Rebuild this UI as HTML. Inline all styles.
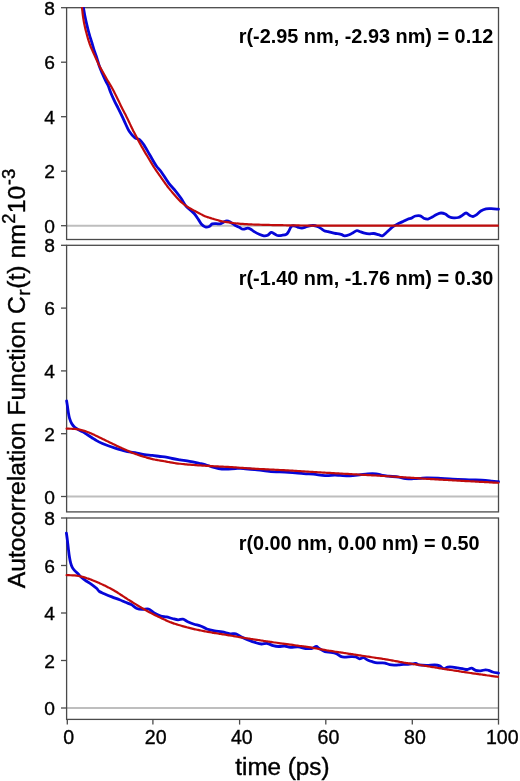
<!DOCTYPE html>
<html><head><meta charset="utf-8"><style>html,body{margin:0;padding:0;background:#fff;}svg{display:block;filter:blur(0.4px);}</style></head><body>
<svg width="520" height="781" viewBox="0 0 520 781">
<defs>
<clipPath id="c0"><rect x="65.00" y="7.10" width="435.10" height="233.00"/></clipPath>
<clipPath id="c1"><rect x="65.00" y="244.70" width="435.10" height="267.80"/></clipPath>
<clipPath id="c2"><rect x="65.00" y="517.40" width="435.10" height="202.60"/></clipPath>
</defs>
<rect width="520" height="781" fill="#fff"/>
<line x1="66.60" y1="225.70" x2="498.50" y2="225.70" stroke="#bebebe" stroke-width="2"/>
<rect x="66.60" y="7.70" width="431.90" height="231.80" fill="none" stroke="#4a4a4a" stroke-width="1.30"/>
<line x1="61.0" y1="225.70" x2="66.60" y2="225.70" stroke="#4a4a4a" stroke-width="1.30"/>
<text x="54.8" y="232.80" text-anchor="end" font-family="&quot;Liberation Sans&quot;, Arial, sans-serif" font-size="19.2" stroke="#000" stroke-width="0.35">0</text>
<line x1="61.0" y1="171.20" x2="66.60" y2="171.20" stroke="#4a4a4a" stroke-width="1.30"/>
<text x="54.8" y="178.30" text-anchor="end" font-family="&quot;Liberation Sans&quot;, Arial, sans-serif" font-size="19.2" stroke="#000" stroke-width="0.35">2</text>
<line x1="61.0" y1="116.70" x2="66.60" y2="116.70" stroke="#4a4a4a" stroke-width="1.30"/>
<text x="54.8" y="123.80" text-anchor="end" font-family="&quot;Liberation Sans&quot;, Arial, sans-serif" font-size="19.2" stroke="#000" stroke-width="0.35">4</text>
<line x1="61.0" y1="62.20" x2="66.60" y2="62.20" stroke="#4a4a4a" stroke-width="1.30"/>
<text x="54.8" y="69.30" text-anchor="end" font-family="&quot;Liberation Sans&quot;, Arial, sans-serif" font-size="19.2" stroke="#000" stroke-width="0.35">6</text>
<line x1="61.0" y1="7.70" x2="66.60" y2="7.70" stroke="#4a4a4a" stroke-width="1.30"/>
<text x="54.8" y="14.80" text-anchor="end" font-family="&quot;Liberation Sans&quot;, Arial, sans-serif" font-size="19.2" stroke="#000" stroke-width="0.35">8</text>
<g clip-path="url(#c0)" fill="none" stroke-linejoin="round" stroke-linecap="round">
<path d="M83.30,7.00 C83.55,8.40 84.22,12.47 84.80,15.40 C85.38,18.33 86.13,21.72 86.80,24.60 C87.47,27.48 88.20,30.47 88.80,32.70 C89.40,34.93 89.88,36.33 90.40,38.00 C90.92,39.67 91.27,40.63 91.90,42.70 C92.53,44.77 93.37,47.83 94.20,50.40 C95.03,52.97 96.07,55.53 96.90,58.10 C97.73,60.67 98.30,63.23 99.20,65.80 C100.10,68.37 101.20,70.93 102.30,73.50 C103.40,76.07 104.83,79.20 105.80,81.20 C106.77,83.20 107.27,83.58 108.10,85.50 C108.93,87.42 109.78,90.22 110.80,92.70 C111.82,95.18 112.98,97.83 114.20,100.40 C115.42,102.97 116.82,105.53 118.10,108.10 C119.38,110.67 120.68,113.23 121.90,115.80 C123.12,118.37 124.18,120.93 125.40,123.50 C126.62,126.07 127.60,128.80 129.20,131.20 C130.80,133.60 133.23,136.47 135.00,137.90 C136.77,139.33 138.35,138.68 139.80,139.80 C141.25,140.92 142.10,142.20 143.70,144.60 C145.30,147.00 147.32,150.67 149.40,154.20 C151.48,157.73 154.27,162.92 156.20,165.80 C158.13,168.68 158.92,168.62 161.00,171.50 C163.08,174.38 166.30,179.88 168.70,183.10 C171.10,186.32 173.32,188.23 175.40,190.80 C177.48,193.37 179.43,195.93 181.20,198.50 C182.97,201.07 184.40,204.20 186.00,206.20 C187.60,208.20 189.37,209.20 190.80,210.50 C192.23,211.80 193.32,212.48 194.60,214.00 C195.88,215.52 197.35,217.90 198.50,219.60 C199.65,221.30 200.35,222.97 201.50,224.20 C202.65,225.43 204.12,226.62 205.40,227.00 C206.68,227.38 208.05,227.02 209.20,226.50 C210.35,225.98 211.13,224.38 212.30,223.90 C213.47,223.42 214.92,223.60 216.20,223.60 C217.48,223.60 218.85,224.10 220.00,223.90 C221.15,223.70 221.95,222.92 223.10,222.40 C224.25,221.88 225.62,220.80 226.90,220.80 C228.18,220.80 229.52,221.70 230.80,222.40 C232.08,223.10 233.20,224.18 234.60,225.00 C236.00,225.82 237.78,226.60 239.20,227.30 C240.62,228.00 241.68,229.07 243.10,229.20 C244.52,229.33 246.42,228.10 247.70,228.10 C248.98,228.10 249.65,228.57 250.80,229.20 C251.95,229.83 253.20,231.07 254.60,231.90 C256.00,232.73 257.67,233.55 259.20,234.20 C260.73,234.85 262.38,235.62 263.80,235.80 C265.22,235.98 266.47,235.87 267.70,235.30 C268.93,234.73 270.12,232.65 271.20,232.40 C272.28,232.15 273.18,233.28 274.20,233.80 C275.22,234.32 276.02,235.25 277.30,235.50 C278.58,235.75 280.37,235.52 281.90,235.30 C283.43,235.08 285.35,234.88 286.50,234.20 C287.65,233.52 288.02,232.48 288.80,231.20 C289.58,229.92 290.30,227.40 291.20,226.50 C292.10,225.60 293.05,225.67 294.20,225.80 C295.35,225.93 296.82,226.92 298.10,227.30 C299.38,227.68 300.62,228.15 301.90,228.10 C303.18,228.05 304.52,227.38 305.80,227.00 C307.08,226.62 308.32,226.05 309.60,225.80 C310.88,225.55 312.22,225.38 313.50,225.50 C314.78,225.62 316.15,226.07 317.30,226.50 C318.45,226.93 319.25,227.40 320.40,228.10 C321.55,228.80 322.92,230.12 324.20,230.70 C325.48,231.28 326.82,231.27 328.10,231.60 C329.38,231.93 330.62,232.38 331.90,232.70 C333.18,233.02 334.65,233.32 335.80,233.50 C336.95,233.68 337.78,233.60 338.80,233.80 C339.82,234.00 340.93,234.37 341.90,234.70 C342.87,235.03 343.38,235.80 344.60,235.80 C345.82,235.80 347.78,235.22 349.20,234.70 C350.62,234.18 351.82,233.37 353.10,232.70 C354.38,232.03 355.62,230.83 356.90,230.70 C358.18,230.57 359.52,231.48 360.80,231.90 C362.08,232.32 363.20,232.88 364.60,233.20 C366.00,233.52 367.67,233.75 369.20,233.80 C370.73,233.85 372.25,233.35 373.80,233.50 C375.35,233.65 377.08,234.32 378.50,234.70 C379.92,235.08 381.02,236.13 382.30,235.80 C383.58,235.47 384.92,233.80 386.20,232.70 C387.48,231.60 388.73,230.28 390.00,229.20 C391.27,228.12 392.38,227.15 393.80,226.20 C395.22,225.25 396.95,224.28 398.50,223.50 C400.05,222.72 401.57,222.22 403.10,221.50 C404.63,220.78 406.30,219.77 407.70,219.20 C409.10,218.63 410.22,218.63 411.50,218.10 C412.78,217.57 413.95,216.38 415.40,216.00 C416.85,215.62 418.82,215.43 420.20,215.80 C421.58,216.17 422.40,217.65 423.70,218.20 C425.00,218.75 426.57,219.30 428.00,219.10 C429.43,218.90 430.87,217.78 432.30,217.00 C433.73,216.22 435.15,215.07 436.60,214.40 C438.05,213.73 439.55,213.05 441.00,213.00 C442.45,212.95 443.87,213.43 445.30,214.10 C446.73,214.77 448.17,216.37 449.60,217.00 C451.03,217.63 452.45,217.82 453.90,217.90 C455.35,217.98 457.00,217.85 458.30,217.50 C459.60,217.15 460.40,216.55 461.70,215.80 C463.00,215.05 464.80,213.08 466.10,213.00 C467.40,212.92 468.35,214.72 469.50,215.30 C470.65,215.88 471.85,216.58 473.00,216.50 C474.15,216.42 475.10,215.72 476.40,214.80 C477.70,213.88 479.20,211.98 480.80,211.00 C482.40,210.02 484.27,209.28 486.00,208.90 C487.73,208.52 489.12,208.65 491.20,208.70 C493.28,208.75 497.28,209.12 498.50,209.20" stroke="#0606d8" stroke-width="2.80"/>
<path d="M82.00,7.00 C82.03,7.33 82.12,8.33 82.17,8.99 C82.23,9.66 82.29,10.32 82.36,10.98 C82.42,11.65 82.49,12.31 82.56,12.97 C82.64,13.63 82.72,14.30 82.80,14.96 C82.89,15.62 82.98,16.28 83.08,16.94 C83.17,17.60 83.27,18.25 83.38,18.91 C83.48,19.57 83.59,20.23 83.70,20.89 C83.82,21.54 83.93,22.20 84.06,22.85 C84.18,23.51 84.31,24.16 84.45,24.81 C84.59,25.46 84.73,26.12 84.88,26.77 C85.03,27.42 85.18,28.06 85.33,28.71 C85.49,29.36 85.65,30.01 85.81,30.65 C85.97,31.30 86.14,31.95 86.30,32.59 C86.47,33.24 86.64,33.88 86.82,34.52 C86.99,35.17 87.17,35.81 87.34,36.45 C87.52,37.10 87.70,37.74 87.89,38.38 C88.07,39.02 88.26,39.66 88.46,40.29 C88.65,40.93 88.85,41.57 89.06,42.20 C89.27,42.83 89.48,43.46 89.71,44.09 C89.94,44.72 90.17,45.34 90.41,45.96 C90.66,46.58 90.91,47.19 91.17,47.81 C91.43,48.42 91.70,49.03 91.97,49.64 C92.24,50.25 92.51,50.86 92.79,51.46 C93.06,52.07 93.34,52.68 93.61,53.29 C93.89,53.89 94.16,54.50 94.44,55.11 C94.71,55.71 94.99,56.32 95.26,56.93 C95.53,57.54 95.81,58.15 96.08,58.75 C96.35,59.36 96.62,59.97 96.90,60.58 C97.17,61.19 97.44,61.80 97.72,62.40 C98.00,63.01 98.27,63.61 98.56,64.21 C98.85,64.81 99.15,65.41 99.45,66.00 C99.76,66.59 100.08,67.18 100.40,67.76 C100.72,68.34 101.05,68.92 101.37,69.50 C101.70,70.08 102.04,70.66 102.37,71.24 C102.70,71.82 103.03,72.39 103.36,72.97 C103.69,73.55 104.01,74.14 104.34,74.72 C104.67,75.30 104.99,75.88 105.31,76.47 C105.64,77.05 105.96,77.63 106.29,78.21 C106.62,78.79 106.95,79.37 107.29,79.94 C107.63,80.51 107.97,81.08 108.32,81.65 C108.67,82.22 109.02,82.78 109.37,83.35 C109.71,83.92 110.06,84.49 110.40,85.06 C110.74,85.64 111.07,86.21 111.39,86.80 C111.72,87.38 112.04,87.96 112.35,88.55 C112.67,89.14 112.97,89.73 113.28,90.32 C113.59,90.91 113.90,91.50 114.20,92.09 C114.51,92.69 114.81,93.28 115.11,93.88 C115.41,94.47 115.71,95.07 116.01,95.66 C116.30,96.26 116.60,96.86 116.89,97.46 C117.19,98.05 117.48,98.65 117.77,99.25 C118.07,99.85 118.36,100.45 118.65,101.05 C118.94,101.65 119.23,102.25 119.51,102.85 C119.80,103.45 120.09,104.06 120.38,104.66 C120.66,105.26 120.95,105.86 121.24,106.46 C121.53,107.06 121.82,107.66 122.12,108.26 C122.41,108.86 122.71,109.45 123.01,110.04 C123.32,110.64 123.63,111.23 123.94,111.82 C124.25,112.41 124.57,112.99 124.88,113.58 C125.19,114.17 125.50,114.76 125.80,115.35 C126.11,115.95 126.41,116.54 126.71,117.14 C127.00,117.73 127.30,118.33 127.59,118.93 C127.88,119.53 128.16,120.13 128.45,120.74 C128.74,121.34 129.02,121.94 129.30,122.54 C129.59,123.15 129.87,123.75 130.15,124.36 C130.43,124.96 130.72,125.56 131.00,126.17 C131.29,126.77 131.57,127.37 131.86,127.97 C132.15,128.57 132.45,129.17 132.75,129.76 C133.04,130.36 133.35,130.95 133.65,131.55 C133.96,132.14 134.27,132.73 134.57,133.32 C134.88,133.91 135.19,134.50 135.50,135.09 C135.82,135.68 136.13,136.27 136.44,136.86 C136.75,137.45 137.07,138.04 137.38,138.62 C137.70,139.21 138.01,139.80 138.33,140.39 C138.64,140.97 138.96,141.56 139.28,142.15 C139.59,142.73 139.91,143.32 140.23,143.91 C140.54,144.49 140.86,145.08 141.18,145.66 C141.50,146.25 141.82,146.83 142.15,147.41 C142.47,147.99 142.80,148.57 143.14,149.15 C143.47,149.73 143.80,150.31 144.14,150.88 C144.48,151.46 144.82,152.03 145.16,152.60 C145.50,153.17 145.84,153.75 146.19,154.32 C146.53,154.89 146.87,155.46 147.21,156.03 C147.56,156.61 147.90,157.18 148.24,157.75 C148.58,158.32 148.93,158.89 149.27,159.47 C149.61,160.04 149.95,160.61 150.30,161.18 C150.64,161.75 150.98,162.33 151.33,162.90 C151.67,163.47 152.01,164.04 152.36,164.61 C152.71,165.18 153.06,165.74 153.41,166.31 C153.77,166.87 154.13,167.43 154.49,167.99 C154.86,168.55 155.23,169.10 155.60,169.65 C155.98,170.20 156.36,170.75 156.74,171.30 C157.12,171.84 157.50,172.39 157.88,172.94 C158.27,173.48 158.65,174.03 159.03,174.57 C159.42,175.12 159.80,175.66 160.18,176.21 C160.57,176.75 160.95,177.30 161.33,177.85 C161.72,178.39 162.10,178.94 162.48,179.48 C162.87,180.03 163.25,180.57 163.63,181.12 C164.02,181.66 164.40,182.21 164.79,182.75 C165.17,183.29 165.56,183.84 165.95,184.38 C166.34,184.91 166.74,185.45 167.14,185.98 C167.54,186.52 167.95,187.04 168.36,187.56 C168.77,188.09 169.20,188.60 169.62,189.12 C170.04,189.63 170.47,190.14 170.90,190.65 C171.33,191.16 171.76,191.67 172.20,192.18 C172.63,192.68 173.06,193.19 173.49,193.70 C173.92,194.21 174.36,194.71 174.79,195.22 C175.22,195.73 175.66,196.23 176.09,196.74 C176.53,197.24 176.97,197.74 177.41,198.23 C177.86,198.73 178.31,199.22 178.77,199.69 C179.24,200.17 179.71,200.64 180.19,201.10 C180.67,201.56 181.16,202.00 181.66,202.44 C182.16,202.88 182.66,203.32 183.18,203.74 C183.69,204.16 184.21,204.58 184.74,204.98 C185.27,205.38 185.81,205.77 186.35,206.14 C186.90,206.51 187.46,206.86 188.03,207.21 C188.60,207.56 189.18,207.89 189.76,208.21 C190.33,208.54 190.92,208.86 191.50,209.18 C192.09,209.50 192.67,209.82 193.26,210.14 C193.85,210.45 194.43,210.77 195.02,211.08 C195.61,211.40 196.20,211.71 196.79,212.02 C197.38,212.34 197.97,212.65 198.56,212.95 C199.15,213.26 199.74,213.57 200.33,213.87 C200.93,214.18 201.52,214.48 202.12,214.77 C202.72,215.06 203.31,215.35 203.92,215.63 C204.53,215.90 205.14,216.16 205.75,216.41 C206.37,216.66 206.99,216.88 207.62,217.11 C208.25,217.33 208.88,217.53 209.51,217.74 C210.15,217.94 210.78,218.14 211.42,218.33 C212.06,218.53 212.69,218.73 213.33,218.92 C213.97,219.11 214.61,219.31 215.25,219.50 C215.88,219.69 216.52,219.88 217.16,220.07 C217.80,220.25 218.44,220.43 219.09,220.60 C219.73,220.77 220.38,220.92 221.03,221.07 C221.68,221.21 222.33,221.34 222.98,221.47 C223.64,221.59 224.29,221.70 224.95,221.80 C225.61,221.91 226.27,222.01 226.92,222.11 C227.58,222.21 228.24,222.31 228.90,222.41 C229.56,222.51 230.22,222.61 230.88,222.70 C231.54,222.80 232.20,222.89 232.86,222.98 C233.52,223.08 234.18,223.16 234.84,223.24 C235.50,223.32 236.17,223.40 236.83,223.47 C237.49,223.53 238.15,223.59 238.82,223.64 C239.48,223.70 240.15,223.75 240.81,223.79 C241.48,223.84 242.14,223.89 242.81,223.93 C243.47,223.98 244.14,224.02 244.80,224.06 C245.47,224.10 246.13,224.15 246.80,224.19 C247.46,224.23 248.13,224.27 248.80,224.31 C249.46,224.35 250.13,224.39 250.79,224.42 C251.46,224.45 252.12,224.48 252.79,224.51 C253.46,224.54 254.12,224.56 254.79,224.58 C255.45,224.60 256.12,224.62 256.79,224.64 C257.45,224.66 258.12,224.68 258.79,224.70 C259.45,224.71 260.12,224.73 260.79,224.75 C261.45,224.77 262.12,224.79 262.78,224.80 C263.45,224.82 264.12,224.84 264.78,224.86 C265.45,224.88 266.12,224.89 266.78,224.91 C267.45,224.93 268.12,224.94 268.78,224.96 C269.45,224.98 270.12,224.99 270.78,225.00 C271.45,225.02 272.12,225.03 272.78,225.04 C273.45,225.06 274.11,225.07 274.78,225.08 C275.45,225.09 276.11,225.10 276.78,225.11 C277.45,225.12 278.11,225.14 278.78,225.15 C279.45,225.16 280.11,225.17 280.78,225.18 C281.45,225.19 282.11,225.20 282.78,225.21 C283.45,225.22 284.11,225.24 284.78,225.25 C285.45,225.26 286.11,225.27 286.78,225.28 C287.45,225.29 288.11,225.30 288.78,225.31 C289.45,225.32 290.11,225.34 290.78,225.35 C291.45,225.36 292.11,225.37 292.78,225.38 C293.45,225.39 294.11,225.40 294.78,225.41 C295.45,225.42 296.11,225.43 296.78,225.44 C297.44,225.45 298.11,225.46 298.78,225.47 C299.44,225.48 300.11,225.49 300.78,225.49 C301.44,225.50 302.11,225.50 302.78,225.51 C303.44,225.51 304.11,225.51 304.78,225.52 C305.44,225.52 306.11,225.52 306.78,225.53 C307.44,225.53 308.11,225.53 308.78,225.54 C309.44,225.54 310.11,225.54 310.78,225.54 C311.44,225.55 312.11,225.55 312.78,225.55 C313.44,225.55 314.11,225.56 314.78,225.56 C315.44,225.56 316.11,225.56 316.78,225.57 C317.44,225.57 318.11,225.57 318.78,225.58 C319.44,225.58 320.11,225.58 320.78,225.58 C321.44,225.59 322.11,225.59 322.78,225.59 C323.44,225.59 324.11,225.60 324.78,225.60 C325.44,225.60 326.11,225.60 326.78,225.61 C327.44,225.61 328.11,225.61 328.78,225.62 C329.44,225.62 330.11,225.62 330.78,225.62 C331.44,225.63 332.11,225.63 332.78,225.63 C333.44,225.63 334.11,225.64 334.78,225.64 C335.44,225.64 336.11,225.64 336.78,225.65 C337.44,225.65 338.11,225.65 338.78,225.66 C339.44,225.66 340.11,225.66 340.78,225.66 C341.44,225.67 342.11,225.67 342.78,225.67 C343.44,225.67 344.11,225.68 344.78,225.68 C345.44,225.68 346.11,225.68 346.78,225.69 C347.44,225.69 348.11,225.69 348.78,225.69 C349.44,225.69 350.11,225.70 350.78,225.70 C351.44,225.70 352.11,225.70 352.78,225.70 C353.44,225.70 354.11,225.70 354.78,225.70 C355.44,225.70 356.11,225.70 356.78,225.70 C357.44,225.70 358.11,225.70 358.78,225.70 C359.44,225.70 360.11,225.70 360.78,225.70 C361.44,225.70 362.11,225.70 362.78,225.70 C363.44,225.70 364.11,225.70 364.78,225.70 C365.44,225.70 366.11,225.70 366.78,225.70 C367.44,225.70 368.11,225.70 368.78,225.70 C369.44,225.70 370.11,225.70 370.78,225.70 C371.44,225.70 372.11,225.70 372.78,225.70 C373.44,225.70 374.11,225.70 374.78,225.70 C375.44,225.70 376.11,225.70 376.78,225.70 C377.44,225.70 378.11,225.70 378.78,225.70 C379.44,225.70 380.11,225.70 380.78,225.70 C381.44,225.70 382.11,225.70 382.78,225.70 C383.44,225.70 384.11,225.70 384.78,225.70 C385.44,225.70 386.11,225.70 386.78,225.70 C387.44,225.70 388.11,225.70 388.78,225.70 C389.44,225.70 390.11,225.70 390.78,225.70 C391.44,225.70 392.11,225.70 392.78,225.70 C393.44,225.70 394.11,225.70 394.78,225.70 C395.44,225.70 396.11,225.70 396.78,225.70 C397.44,225.70 398.11,225.70 398.78,225.70 C399.44,225.70 400.11,225.70 400.78,225.70 C401.44,225.70 402.11,225.70 402.78,225.70 C403.44,225.70 404.11,225.70 404.78,225.70 C405.44,225.70 406.11,225.70 406.78,225.70 C407.44,225.70 408.11,225.70 408.78,225.70 C409.44,225.70 410.11,225.70 410.78,225.70 C411.44,225.70 412.11,225.70 412.78,225.70 C413.44,225.70 414.11,225.70 414.78,225.70 C415.44,225.70 416.11,225.70 416.78,225.70 C417.44,225.70 418.11,225.70 418.78,225.70 C419.44,225.70 420.11,225.70 420.78,225.70 C421.44,225.70 422.11,225.70 422.78,225.70 C423.44,225.70 424.11,225.70 424.78,225.70 C425.44,225.70 426.11,225.70 426.78,225.70 C427.44,225.70 428.11,225.70 428.78,225.70 C429.44,225.70 430.11,225.70 430.78,225.70 C431.44,225.70 432.11,225.70 432.78,225.70 C433.44,225.70 434.11,225.70 434.78,225.70 C435.44,225.70 436.11,225.70 436.78,225.70 C437.44,225.70 438.11,225.70 438.78,225.70 C439.44,225.70 440.11,225.70 440.78,225.70 C441.44,225.70 442.11,225.70 442.78,225.70 C443.44,225.70 444.11,225.70 444.78,225.70 C445.44,225.70 446.11,225.70 446.78,225.70 C447.44,225.70 448.11,225.70 448.78,225.70 C449.44,225.70 450.11,225.70 450.78,225.70 C451.44,225.70 452.11,225.70 452.78,225.70 C453.44,225.70 454.11,225.70 454.78,225.70 C455.44,225.70 456.11,225.70 456.78,225.70 C457.44,225.70 458.11,225.70 458.78,225.70 C459.44,225.70 460.11,225.70 460.78,225.70 C461.44,225.70 462.11,225.70 462.78,225.70 C463.44,225.70 464.11,225.70 464.78,225.70 C465.44,225.70 466.11,225.70 466.78,225.70 C467.44,225.70 468.11,225.70 468.78,225.70 C469.44,225.70 470.11,225.70 470.78,225.70 C471.44,225.70 472.11,225.70 472.78,225.70 C473.44,225.70 474.11,225.70 474.78,225.70 C475.44,225.70 476.11,225.70 476.78,225.70 C477.44,225.70 478.11,225.70 478.78,225.70 C479.44,225.70 480.11,225.70 480.78,225.70 C481.44,225.70 482.11,225.70 482.78,225.70 C483.44,225.70 484.11,225.70 484.78,225.70 C485.44,225.70 486.11,225.70 486.78,225.70 C487.44,225.70 488.11,225.70 488.78,225.70 C489.44,225.70 490.11,225.70 490.77,225.70 C491.44,225.70 492.11,225.70 492.76,225.70 C493.41,225.70 494.06,225.70 494.68,225.70 C495.29,225.70 495.90,225.70 496.45,225.70 C497.00,225.70 497.71,225.70 497.97,225.70" stroke="#c00c0c" stroke-width="2.20"/>
</g>
<text x="238.7" y="43.00" font-family="&quot;Liberation Sans&quot;, Arial, sans-serif" font-weight="bold" font-size="20" textLength="254.6" lengthAdjust="spacingAndGlyphs">r(-2.95 nm, -2.93 nm) = 0.12</text>
<line x1="66.60" y1="496.50" x2="498.50" y2="496.50" stroke="#bebebe" stroke-width="2"/>
<rect x="66.60" y="245.30" width="431.90" height="266.60" fill="none" stroke="#4a4a4a" stroke-width="1.30"/>
<line x1="61.0" y1="496.50" x2="66.60" y2="496.50" stroke="#4a4a4a" stroke-width="1.30"/>
<text x="54.8" y="503.60" text-anchor="end" font-family="&quot;Liberation Sans&quot;, Arial, sans-serif" font-size="19.2" stroke="#000" stroke-width="0.35">0</text>
<line x1="61.0" y1="433.70" x2="66.60" y2="433.70" stroke="#4a4a4a" stroke-width="1.30"/>
<text x="54.8" y="440.80" text-anchor="end" font-family="&quot;Liberation Sans&quot;, Arial, sans-serif" font-size="19.2" stroke="#000" stroke-width="0.35">2</text>
<line x1="61.0" y1="370.90" x2="66.60" y2="370.90" stroke="#4a4a4a" stroke-width="1.30"/>
<text x="54.8" y="378.00" text-anchor="end" font-family="&quot;Liberation Sans&quot;, Arial, sans-serif" font-size="19.2" stroke="#000" stroke-width="0.35">4</text>
<line x1="61.0" y1="308.10" x2="66.60" y2="308.10" stroke="#4a4a4a" stroke-width="1.30"/>
<text x="54.8" y="315.20" text-anchor="end" font-family="&quot;Liberation Sans&quot;, Arial, sans-serif" font-size="19.2" stroke="#000" stroke-width="0.35">6</text>
<line x1="61.0" y1="245.30" x2="66.60" y2="245.30" stroke="#4a4a4a" stroke-width="1.30"/>
<text x="54.8" y="252.40" text-anchor="end" font-family="&quot;Liberation Sans&quot;, Arial, sans-serif" font-size="19.2" stroke="#000" stroke-width="0.35">8</text>
<g clip-path="url(#c1)" fill="none" stroke-linejoin="round" stroke-linecap="round">
<path d="M66.60,400.80 C66.75,401.75 67.22,404.58 67.50,406.50 C67.78,408.42 67.97,410.37 68.30,412.30 C68.63,414.23 68.92,416.18 69.50,418.10 C70.08,420.02 70.93,422.27 71.80,423.80 C72.67,425.33 73.63,426.33 74.70,427.30 C75.77,428.27 76.85,428.83 78.20,429.60 C79.55,430.37 81.27,431.03 82.80,431.90 C84.33,432.77 85.87,433.83 87.40,434.80 C88.93,435.77 90.47,436.73 92.00,437.70 C93.53,438.67 94.87,439.63 96.60,440.60 C98.33,441.57 100.47,442.63 102.40,443.50 C104.33,444.37 106.08,445.03 108.20,445.80 C110.32,446.57 112.80,447.37 115.10,448.10 C117.40,448.83 119.97,449.60 122.00,450.20 C124.03,450.80 124.82,451.22 127.30,451.70 C129.78,452.18 134.02,452.62 136.90,453.10 C139.78,453.58 142.03,454.22 144.60,454.60 C147.17,454.98 149.73,455.08 152.30,455.40 C154.87,455.72 157.95,456.25 160.00,456.50 C162.05,456.75 162.55,456.57 164.60,456.90 C166.65,457.23 169.73,458.02 172.30,458.50 C174.87,458.98 177.12,459.33 180.00,459.80 C182.88,460.27 186.40,460.72 189.60,461.30 C192.80,461.88 196.63,462.75 199.20,463.30 C201.77,463.85 203.07,464.07 205.00,464.60 C206.93,465.13 208.55,465.85 210.80,466.50 C213.05,467.15 215.93,468.08 218.50,468.50 C221.07,468.92 223.32,469.00 226.20,469.00 C229.08,469.00 232.92,468.58 235.80,468.50 C238.68,468.42 240.30,468.32 243.50,468.50 C246.70,468.68 250.72,469.13 255.00,469.60 C259.28,470.07 263.62,470.85 269.20,471.30 C274.78,471.75 282.73,471.90 288.50,472.30 C294.27,472.70 299.63,473.38 303.80,473.70 C307.97,474.02 309.97,473.88 313.50,474.20 C317.03,474.52 321.48,475.43 325.00,475.60 C328.52,475.77 332.10,475.23 334.60,475.20 C337.10,475.17 337.47,475.28 340.00,475.40 C342.53,475.52 346.53,475.98 349.80,475.90 C353.07,475.82 356.60,475.25 359.60,474.90 C362.60,474.55 365.07,473.98 367.80,473.80 C370.53,473.62 373.55,473.53 376.00,473.80 C378.45,474.07 380.33,475.00 382.50,475.40 C384.67,475.80 386.28,475.92 389.00,476.20 C391.72,476.48 396.07,476.68 398.80,477.10 C401.53,477.52 402.93,478.43 405.40,478.70 C407.87,478.97 411.17,478.75 413.60,478.70 C416.03,478.65 417.85,478.53 420.00,478.40 C422.15,478.27 423.50,477.93 426.50,477.90 C429.50,477.87 433.63,477.98 438.00,478.20 C442.37,478.42 447.53,478.93 452.70,479.20 C457.87,479.47 463.55,479.62 469.00,479.80 C474.45,479.98 481.58,480.07 485.40,480.30 C489.22,480.53 489.72,480.98 491.90,481.20 C494.08,481.42 497.40,481.53 498.50,481.60" stroke="#0606d8" stroke-width="2.80"/>
<path d="M66.60,428.70 C66.93,428.70 67.93,428.70 68.60,428.71 C69.27,428.71 69.93,428.72 70.60,428.73 C71.26,428.75 71.93,428.76 72.59,428.80 C73.26,428.83 73.92,428.87 74.58,428.93 C75.25,428.99 75.91,429.06 76.57,429.14 C77.23,429.23 77.88,429.33 78.54,429.44 C79.19,429.56 79.84,429.69 80.49,429.84 C81.14,429.99 81.78,430.15 82.43,430.32 C83.07,430.49 83.71,430.68 84.34,430.87 C84.98,431.07 85.61,431.28 86.24,431.49 C86.87,431.71 87.50,431.93 88.12,432.17 C88.75,432.40 89.37,432.65 89.98,432.90 C90.60,433.15 91.21,433.42 91.81,433.69 C92.42,433.97 93.02,434.25 93.62,434.54 C94.23,434.82 94.82,435.12 95.42,435.41 C96.02,435.70 96.62,435.99 97.22,436.29 C97.82,436.58 98.42,436.87 99.02,437.16 C99.62,437.46 100.21,437.75 100.81,438.04 C101.41,438.33 102.01,438.63 102.61,438.92 C103.21,439.22 103.81,439.51 104.40,439.81 C105.00,440.10 105.60,440.40 106.20,440.69 C106.80,440.98 107.39,441.28 107.99,441.57 C108.59,441.86 109.19,442.15 109.79,442.44 C110.39,442.73 110.99,443.02 111.60,443.31 C112.20,443.60 112.80,443.88 113.40,444.17 C114.00,444.46 114.60,444.74 115.20,445.03 C115.81,445.32 116.41,445.61 117.01,445.90 C117.61,446.18 118.21,446.47 118.81,446.76 C119.42,447.04 120.02,447.33 120.62,447.61 C121.23,447.89 121.83,448.17 122.44,448.45 C123.05,448.72 123.65,448.99 124.26,449.26 C124.87,449.53 125.48,449.80 126.10,450.07 C126.71,450.33 127.32,450.60 127.93,450.86 C128.54,451.12 129.16,451.39 129.77,451.65 C130.38,451.91 131.00,452.17 131.61,452.42 C132.23,452.67 132.85,452.92 133.47,453.16 C134.09,453.40 134.72,453.63 135.34,453.87 C135.96,454.10 136.59,454.32 137.22,454.55 C137.85,454.77 138.48,455.00 139.10,455.22 C139.73,455.43 140.36,455.65 141.00,455.86 C141.63,456.07 142.26,456.28 142.90,456.48 C143.53,456.68 144.17,456.87 144.81,457.06 C145.45,457.25 146.09,457.44 146.73,457.62 C147.37,457.80 148.01,457.98 148.66,458.16 C149.30,458.33 149.94,458.50 150.59,458.66 C151.23,458.82 151.88,458.98 152.53,459.12 C153.18,459.27 153.83,459.40 154.49,459.53 C155.14,459.66 155.80,459.78 156.45,459.90 C157.11,460.02 157.76,460.13 158.42,460.24 C159.08,460.36 159.74,460.47 160.39,460.58 C161.05,460.70 161.71,460.81 162.36,460.92 C163.02,461.04 163.68,461.15 164.33,461.27 C164.99,461.39 165.64,461.51 166.30,461.63 C166.96,461.75 167.61,461.87 168.27,461.99 C168.92,462.11 169.58,462.23 170.23,462.35 C170.89,462.47 171.55,462.58 172.20,462.69 C172.86,462.80 173.52,462.91 174.18,463.01 C174.84,463.11 175.50,463.20 176.16,463.29 C176.82,463.38 177.48,463.46 178.14,463.54 C178.80,463.62 179.46,463.70 180.13,463.77 C180.79,463.85 181.45,463.92 182.11,463.99 C182.78,464.06 183.44,464.13 184.10,464.19 C184.77,464.26 185.43,464.32 186.10,464.38 C186.76,464.44 187.42,464.49 188.09,464.55 C188.75,464.61 189.42,464.66 190.08,464.71 C190.75,464.77 191.41,464.82 192.07,464.87 C192.74,464.92 193.40,464.97 194.07,465.02 C194.73,465.06 195.40,465.11 196.06,465.15 C196.73,465.20 197.39,465.24 198.06,465.28 C198.73,465.33 199.39,465.37 200.06,465.41 C200.72,465.45 201.39,465.49 202.05,465.53 C202.72,465.58 203.38,465.62 204.05,465.66 C204.71,465.70 205.38,465.74 206.04,465.78 C206.71,465.83 207.38,465.87 208.04,465.91 C208.71,465.95 209.37,465.99 210.04,466.03 C210.70,466.07 211.37,466.11 212.03,466.14 C212.70,466.18 213.36,466.22 214.03,466.25 C214.70,466.29 215.36,466.32 216.03,466.35 C216.69,466.39 217.36,466.42 218.03,466.45 C218.69,466.48 219.36,466.51 220.02,466.54 C220.69,466.57 221.36,466.61 222.02,466.64 C222.69,466.67 223.35,466.70 224.02,466.73 C224.68,466.76 225.35,466.79 226.02,466.83 C226.68,466.86 227.35,466.89 228.01,466.92 C228.68,466.96 229.35,466.99 230.01,467.03 C230.68,467.06 231.34,467.10 232.01,467.14 C232.67,467.18 233.34,467.23 234.00,467.28 C234.67,467.32 235.33,467.37 236.00,467.42 C236.66,467.47 237.33,467.52 237.99,467.57 C238.66,467.62 239.32,467.67 239.99,467.73 C240.65,467.78 241.32,467.83 241.98,467.88 C242.64,467.93 243.31,467.98 243.97,468.03 C244.64,468.08 245.30,468.14 245.97,468.18 C246.63,468.23 247.30,468.28 247.96,468.33 C248.63,468.38 249.29,468.42 249.96,468.46 C250.62,468.51 251.29,468.55 251.95,468.58 C252.62,468.62 253.29,468.66 253.95,468.69 C254.62,468.73 255.28,468.76 255.95,468.79 C256.61,468.83 257.28,468.86 257.95,468.89 C258.61,468.93 259.28,468.96 259.94,468.99 C260.61,469.02 261.28,469.06 261.94,469.09 C262.61,469.12 263.27,469.16 263.94,469.19 C264.61,469.22 265.27,469.25 265.94,469.29 C266.60,469.32 267.27,469.35 267.93,469.39 C268.60,469.42 269.27,469.45 269.93,469.48 C270.60,469.52 271.26,469.55 271.93,469.58 C272.60,469.62 273.26,469.65 273.93,469.68 C274.59,469.71 275.26,469.75 275.92,469.78 C276.59,469.81 277.26,469.85 277.92,469.88 C278.59,469.91 279.25,469.94 279.92,469.98 C280.59,470.01 281.25,470.04 281.92,470.08 C282.58,470.11 283.25,470.14 283.91,470.17 C284.58,470.21 285.25,470.24 285.91,470.28 C286.58,470.31 287.24,470.35 287.91,470.38 C288.57,470.42 289.24,470.46 289.91,470.50 C290.57,470.53 291.24,470.57 291.90,470.62 C292.57,470.66 293.23,470.70 293.90,470.74 C294.56,470.78 295.23,470.82 295.89,470.86 C296.56,470.90 297.23,470.95 297.89,470.99 C298.56,471.03 299.22,471.07 299.89,471.11 C300.55,471.15 301.22,471.19 301.88,471.24 C302.55,471.28 303.21,471.32 303.88,471.36 C304.54,471.40 305.21,471.44 305.88,471.49 C306.54,471.53 307.21,471.57 307.87,471.61 C308.54,471.65 309.20,471.69 309.87,471.74 C310.53,471.78 311.20,471.82 311.86,471.86 C312.53,471.90 313.19,471.94 313.86,471.98 C314.53,472.03 315.19,472.07 315.86,472.11 C316.52,472.15 317.19,472.19 317.85,472.23 C318.52,472.28 319.18,472.32 319.85,472.36 C320.51,472.40 321.18,472.44 321.84,472.48 C322.51,472.52 323.17,472.57 323.84,472.61 C324.51,472.65 325.17,472.69 325.84,472.73 C326.50,472.77 327.17,472.81 327.83,472.85 C328.50,472.89 329.16,472.92 329.83,472.96 C330.50,473.00 331.16,473.04 331.83,473.07 C332.49,473.11 333.16,473.15 333.82,473.19 C334.49,473.22 335.15,473.26 335.82,473.30 C336.49,473.33 337.15,473.37 337.82,473.41 C338.48,473.45 339.15,473.48 339.81,473.52 C340.48,473.56 341.15,473.59 341.81,473.63 C342.48,473.67 343.14,473.71 343.81,473.74 C344.47,473.78 345.14,473.82 345.80,473.85 C346.47,473.89 347.14,473.93 347.80,473.97 C348.47,474.00 349.13,474.04 349.80,474.08 C350.46,474.11 351.13,474.15 351.80,474.19 C352.46,474.23 353.13,474.26 353.79,474.30 C354.46,474.34 355.12,474.37 355.79,474.41 C356.46,474.45 357.12,474.48 357.79,474.52 C358.45,474.56 359.12,474.60 359.78,474.63 C360.45,474.67 361.11,474.71 361.78,474.74 C362.45,474.78 363.11,474.82 363.78,474.86 C364.44,474.89 365.11,474.93 365.77,474.97 C366.44,475.00 367.11,475.04 367.77,475.08 C368.44,475.12 369.10,475.15 369.77,475.19 C370.43,475.23 371.10,475.26 371.76,475.30 C372.43,475.34 373.10,475.38 373.76,475.41 C374.43,475.45 375.09,475.49 375.76,475.52 C376.42,475.56 377.09,475.60 377.76,475.64 C378.42,475.67 379.09,475.71 379.75,475.75 C380.42,475.79 381.08,475.83 381.75,475.87 C382.41,475.91 383.08,475.95 383.74,475.99 C384.41,476.03 385.08,476.07 385.74,476.12 C386.41,476.16 387.07,476.20 387.74,476.25 C388.40,476.29 389.07,476.33 389.73,476.38 C390.40,476.42 391.06,476.46 391.73,476.51 C392.39,476.55 393.06,476.60 393.72,476.64 C394.39,476.68 395.05,476.73 395.72,476.77 C396.38,476.81 397.05,476.86 397.72,476.90 C398.38,476.95 399.05,476.99 399.71,477.03 C400.38,477.08 401.04,477.12 401.71,477.17 C402.37,477.21 403.04,477.25 403.70,477.30 C404.37,477.34 405.03,477.38 405.70,477.43 C406.36,477.47 407.03,477.52 407.69,477.56 C408.36,477.60 409.02,477.65 409.69,477.69 C410.35,477.74 411.02,477.78 411.68,477.82 C412.35,477.87 413.02,477.91 413.68,477.95 C414.35,478.00 415.01,478.04 415.68,478.09 C416.34,478.13 417.01,478.17 417.67,478.22 C418.34,478.26 419.00,478.30 419.67,478.35 C420.33,478.39 421.00,478.44 421.66,478.48 C422.33,478.52 422.99,478.56 423.66,478.61 C424.32,478.65 424.99,478.69 425.66,478.73 C426.32,478.77 426.99,478.81 427.65,478.85 C428.32,478.89 428.98,478.93 429.65,478.97 C430.31,479.01 430.98,479.05 431.64,479.09 C432.31,479.13 432.98,479.17 433.64,479.21 C434.31,479.24 434.97,479.28 435.64,479.32 C436.30,479.36 436.97,479.40 437.63,479.44 C438.30,479.48 438.97,479.52 439.63,479.56 C440.30,479.59 440.96,479.63 441.63,479.67 C442.29,479.71 442.96,479.75 443.62,479.79 C444.29,479.83 444.96,479.87 445.62,479.91 C446.29,479.94 446.95,479.98 447.62,480.02 C448.28,480.06 448.95,480.10 449.61,480.14 C450.28,480.18 450.94,480.22 451.61,480.26 C452.28,480.30 452.94,480.33 453.61,480.37 C454.27,480.41 454.94,480.45 455.60,480.49 C456.27,480.53 456.93,480.57 457.60,480.60 C458.27,480.64 458.93,480.68 459.60,480.72 C460.26,480.75 460.93,480.79 461.59,480.83 C462.26,480.86 462.93,480.90 463.59,480.93 C464.26,480.97 464.92,481.01 465.59,481.04 C466.25,481.08 466.92,481.11 467.59,481.15 C468.25,481.18 468.92,481.22 469.58,481.25 C470.25,481.29 470.91,481.33 471.58,481.36 C472.25,481.40 472.91,481.43 473.58,481.47 C474.24,481.50 474.91,481.54 475.57,481.57 C476.24,481.61 476.91,481.65 477.57,481.68 C478.24,481.72 478.90,481.75 479.57,481.79 C480.23,481.82 480.90,481.86 481.57,481.90 C482.23,481.93 482.90,481.97 483.56,482.00 C484.23,482.04 484.89,482.07 485.56,482.11 C486.23,482.14 486.89,482.18 487.56,482.22 C488.22,482.25 488.89,482.29 489.55,482.32 C490.22,482.36 490.89,482.39 491.55,482.43 C492.21,482.46 492.88,482.50 493.54,482.54 C494.20,482.57 494.86,482.61 495.52,482.64 C496.17,482.68 496.98,482.72 497.46,482.74 C497.95,482.77 498.26,482.79 498.42,482.80" stroke="#c00c0c" stroke-width="2.20"/>
</g>
<text x="238.7" y="284.70" font-family="&quot;Liberation Sans&quot;, Arial, sans-serif" font-weight="bold" font-size="20" textLength="254.6" lengthAdjust="spacingAndGlyphs">r(-1.40 nm, -1.76 nm) = 0.30</text>
<line x1="66.60" y1="708.00" x2="498.50" y2="708.00" stroke="#bebebe" stroke-width="2"/>
<rect x="66.60" y="518.00" width="431.90" height="201.40" fill="none" stroke="#4a4a4a" stroke-width="1.30"/>
<line x1="61.0" y1="708.00" x2="66.60" y2="708.00" stroke="#4a4a4a" stroke-width="1.30"/>
<text x="54.8" y="715.10" text-anchor="end" font-family="&quot;Liberation Sans&quot;, Arial, sans-serif" font-size="19.2" stroke="#000" stroke-width="0.35">0</text>
<line x1="61.0" y1="660.50" x2="66.60" y2="660.50" stroke="#4a4a4a" stroke-width="1.30"/>
<text x="54.8" y="667.60" text-anchor="end" font-family="&quot;Liberation Sans&quot;, Arial, sans-serif" font-size="19.2" stroke="#000" stroke-width="0.35">2</text>
<line x1="61.0" y1="613.00" x2="66.60" y2="613.00" stroke="#4a4a4a" stroke-width="1.30"/>
<text x="54.8" y="620.10" text-anchor="end" font-family="&quot;Liberation Sans&quot;, Arial, sans-serif" font-size="19.2" stroke="#000" stroke-width="0.35">4</text>
<line x1="61.0" y1="565.50" x2="66.60" y2="565.50" stroke="#4a4a4a" stroke-width="1.30"/>
<text x="54.8" y="572.60" text-anchor="end" font-family="&quot;Liberation Sans&quot;, Arial, sans-serif" font-size="19.2" stroke="#000" stroke-width="0.35">6</text>
<line x1="61.0" y1="518.00" x2="66.60" y2="518.00" stroke="#4a4a4a" stroke-width="1.30"/>
<text x="54.8" y="525.10" text-anchor="end" font-family="&quot;Liberation Sans&quot;, Arial, sans-serif" font-size="19.2" stroke="#000" stroke-width="0.35">8</text>
<g clip-path="url(#c2)" fill="none" stroke-linejoin="round" stroke-linecap="round">
<path d="M66.40,533.10 C66.53,534.05 66.88,536.30 67.20,538.80 C67.52,541.30 67.92,545.02 68.30,548.10 C68.68,551.18 69.10,554.80 69.50,557.30 C69.90,559.80 70.22,561.37 70.70,563.10 C71.18,564.83 71.73,566.45 72.40,567.70 C73.07,568.95 73.73,569.55 74.70,570.60 C75.67,571.65 77.05,572.85 78.20,574.00 C79.35,575.15 80.27,576.33 81.60,577.50 C82.93,578.67 84.67,579.95 86.20,581.00 C87.73,582.05 89.08,582.58 90.80,583.80 C92.52,585.02 95.07,587.02 96.50,588.30 C97.93,589.58 98.12,590.60 99.40,591.50 C100.68,592.40 102.12,592.80 104.20,593.70 C106.28,594.60 109.33,595.88 111.90,596.90 C114.47,597.92 117.35,598.90 119.60,599.80 C121.85,600.70 123.47,601.50 125.40,602.30 C127.33,603.10 129.28,603.57 131.20,604.60 C133.12,605.63 134.98,607.70 136.90,608.50 C138.82,609.30 140.77,609.32 142.70,609.40 C144.63,609.48 146.58,608.42 148.50,609.00 C150.42,609.58 152.15,611.73 154.20,612.90 C156.25,614.07 158.75,615.33 160.80,616.00 C162.85,616.67 164.58,616.48 166.50,616.90 C168.42,617.32 170.37,618.02 172.30,618.50 C174.23,618.98 176.33,619.68 178.10,619.80 C179.87,619.92 181.30,618.88 182.90,619.20 C184.50,619.52 185.93,620.90 187.70,621.70 C189.47,622.50 191.25,623.25 193.50,624.00 C195.75,624.75 198.97,625.37 201.20,626.20 C203.43,627.03 204.67,628.23 206.90,629.00 C209.13,629.77 212.03,630.32 214.60,630.80 C217.17,631.28 219.73,631.40 222.30,631.90 C224.87,632.40 227.75,633.48 230.00,633.80 C232.25,634.12 233.88,633.25 235.80,633.80 C237.72,634.35 239.58,636.13 241.50,637.10 C243.42,638.07 244.92,638.67 247.30,639.60 C249.68,640.53 253.43,641.97 255.80,642.70 C258.17,643.43 259.58,643.87 261.50,644.00 C263.42,644.13 265.37,643.23 267.30,643.50 C269.23,643.77 271.18,645.10 273.10,645.60 C275.02,646.10 276.88,646.43 278.80,646.50 C280.72,646.57 282.67,645.87 284.60,646.00 C286.53,646.13 288.15,647.15 290.40,647.30 C292.65,647.45 295.53,646.70 298.10,646.90 C300.67,647.10 303.57,648.23 305.80,648.50 C308.03,648.77 309.75,648.83 311.50,648.50 C313.25,648.17 315.02,646.50 316.30,646.50 C317.58,646.50 317.75,647.63 319.20,648.50 C320.65,649.37 323.07,651.07 325.00,651.70 C326.93,652.33 328.88,651.97 330.80,652.30 C332.72,652.63 334.58,652.93 336.50,653.70 C338.42,654.47 339.85,656.42 342.30,656.90 C344.75,657.38 348.95,656.60 351.20,656.60 C353.45,656.60 354.40,656.53 355.80,656.90 C357.20,657.27 358.32,658.67 359.60,658.80 C360.88,658.93 362.08,657.45 363.50,657.70 C364.92,657.95 366.57,659.62 368.10,660.30 C369.63,660.98 371.17,661.38 372.70,661.80 C374.23,662.22 375.77,662.63 377.30,662.80 C378.83,662.97 380.62,662.75 381.90,662.80 C383.18,662.85 383.72,662.80 385.00,663.10 C386.28,663.40 388.07,664.27 389.60,664.60 C391.13,664.93 392.67,665.05 394.20,665.10 C395.73,665.15 397.25,665.03 398.80,664.90 C400.35,664.77 401.95,664.40 403.50,664.30 C405.05,664.20 406.57,664.38 408.10,664.30 C409.63,664.22 411.42,663.95 412.70,663.80 C413.98,663.65 414.78,663.22 415.80,663.40 C416.82,663.58 417.02,664.57 418.80,664.90 C420.58,665.23 423.85,665.38 426.50,665.40 C429.15,665.42 432.52,664.92 434.70,665.00 C436.88,665.08 438.10,665.28 439.60,665.90 C441.10,666.52 442.33,668.50 443.70,668.70 C445.07,668.90 446.30,667.37 447.80,667.10 C449.30,666.83 451.07,666.97 452.70,667.10 C454.33,667.23 455.97,667.63 457.60,667.90 C459.23,668.17 460.87,668.43 462.50,668.70 C464.13,668.97 465.90,669.58 467.40,669.50 C468.90,669.42 470.13,668.07 471.50,668.20 C472.87,668.33 474.10,669.87 475.60,670.30 C477.10,670.73 478.87,670.88 480.50,670.80 C482.13,670.72 484.05,669.88 485.40,669.80 C486.75,669.72 487.38,669.93 488.60,670.30 C489.82,670.67 491.05,671.53 492.70,672.00 C494.35,672.47 497.53,672.92 498.50,673.10" stroke="#0606d8" stroke-width="2.80"/>
<path d="M66.60,575.20 C66.93,575.20 67.93,575.20 68.60,575.21 C69.27,575.21 69.93,575.22 70.60,575.24 C71.26,575.25 71.93,575.27 72.59,575.31 C73.26,575.35 73.92,575.39 74.58,575.46 C75.24,575.52 75.90,575.60 76.56,575.69 C77.22,575.78 77.88,575.89 78.53,576.00 C79.19,576.12 79.84,576.25 80.49,576.40 C81.14,576.54 81.79,576.70 82.43,576.86 C83.07,577.03 83.72,577.20 84.36,577.39 C84.99,577.57 85.63,577.77 86.27,577.97 C86.90,578.18 87.53,578.39 88.16,578.61 C88.79,578.82 89.42,579.05 90.04,579.28 C90.67,579.50 91.29,579.74 91.92,579.98 C92.54,580.21 93.16,580.46 93.78,580.70 C94.40,580.95 95.02,581.20 95.63,581.45 C96.25,581.71 96.86,581.97 97.47,582.23 C98.09,582.50 98.70,582.76 99.31,583.04 C99.91,583.31 100.52,583.58 101.12,583.87 C101.73,584.15 102.33,584.43 102.93,584.72 C103.53,585.01 104.13,585.31 104.73,585.60 C105.32,585.90 105.92,586.20 106.51,586.50 C107.11,586.80 107.70,587.10 108.30,587.40 C108.89,587.71 109.48,588.01 110.08,588.32 C110.67,588.63 111.26,588.93 111.84,589.25 C112.43,589.57 113.01,589.89 113.59,590.22 C114.17,590.55 114.74,590.90 115.31,591.24 C115.88,591.59 116.44,591.94 117.00,592.30 C117.57,592.65 118.13,593.02 118.69,593.38 C119.25,593.74 119.80,594.10 120.36,594.46 C120.92,594.83 121.48,595.19 122.04,595.55 C122.60,595.91 123.16,596.28 123.72,596.64 C124.28,597.00 124.84,597.36 125.40,597.73 C125.96,598.09 126.52,598.45 127.08,598.81 C127.64,599.17 128.20,599.53 128.76,599.90 C129.32,600.26 129.88,600.62 130.44,600.98 C131.00,601.34 131.57,601.69 132.13,602.05 C132.69,602.40 133.26,602.76 133.83,603.11 C134.39,603.46 134.96,603.81 135.53,604.16 C136.10,604.51 136.67,604.85 137.24,605.20 C137.81,605.54 138.38,605.89 138.95,606.23 C139.52,606.57 140.09,606.92 140.67,607.26 C141.24,607.59 141.82,607.93 142.39,608.27 C142.97,608.60 143.55,608.93 144.13,609.26 C144.71,609.59 145.29,609.92 145.87,610.24 C146.45,610.57 147.04,610.89 147.62,611.21 C148.20,611.53 148.79,611.85 149.37,612.17 C149.96,612.49 150.55,612.81 151.13,613.12 C151.72,613.43 152.31,613.74 152.91,614.05 C153.50,614.35 154.09,614.65 154.69,614.95 C155.29,615.25 155.88,615.54 156.48,615.84 C157.08,616.13 157.68,616.42 158.28,616.71 C158.88,617.01 159.48,617.30 160.08,617.59 C160.68,617.88 161.28,618.17 161.88,618.45 C162.48,618.74 163.09,619.02 163.69,619.30 C164.30,619.58 164.91,619.85 165.52,620.12 C166.13,620.38 166.74,620.64 167.35,620.90 C167.97,621.16 168.59,621.41 169.20,621.66 C169.82,621.91 170.44,622.16 171.06,622.40 C171.68,622.64 172.30,622.88 172.93,623.11 C173.55,623.34 174.18,623.57 174.81,623.78 C175.44,623.99 176.08,624.20 176.71,624.40 C177.35,624.60 177.98,624.79 178.62,624.98 C179.26,625.17 179.90,625.36 180.54,625.54 C181.18,625.73 181.82,625.91 182.46,626.09 C183.11,626.27 183.75,626.45 184.39,626.62 C185.04,626.80 185.68,626.97 186.32,627.14 C186.97,627.31 187.61,627.48 188.26,627.64 C188.90,627.81 189.55,627.98 190.20,628.14 C190.84,628.30 191.49,628.46 192.14,628.62 C192.79,628.78 193.43,628.93 194.08,629.08 C194.73,629.23 195.38,629.37 196.04,629.51 C196.69,629.65 197.34,629.79 197.99,629.93 C198.64,630.07 199.30,630.20 199.95,630.34 C200.60,630.47 201.26,630.60 201.91,630.73 C202.56,630.86 203.22,630.99 203.87,631.11 C204.53,631.24 205.18,631.36 205.84,631.48 C206.50,631.60 207.15,631.71 207.81,631.83 C208.46,631.95 209.12,632.06 209.78,632.18 C210.43,632.29 211.09,632.40 211.75,632.52 C212.41,632.63 213.06,632.74 213.72,632.84 C214.38,632.95 215.04,633.06 215.70,633.16 C216.35,633.27 217.01,633.37 217.67,633.48 C218.33,633.58 218.99,633.68 219.65,633.79 C220.31,633.89 220.96,634.00 221.62,634.10 C222.28,634.21 222.94,634.32 223.60,634.42 C224.25,634.53 224.91,634.64 225.57,634.75 C226.23,634.86 226.88,634.97 227.54,635.08 C228.20,635.18 228.86,635.30 229.51,635.41 C230.17,635.52 230.83,635.63 231.49,635.74 C232.14,635.85 232.80,635.97 233.46,636.08 C234.11,636.20 234.77,636.31 235.43,636.43 C236.08,636.54 236.74,636.66 237.40,636.77 C238.05,636.89 238.71,637.00 239.37,637.11 C240.02,637.22 240.68,637.34 241.34,637.45 C242.00,637.55 242.66,637.66 243.31,637.77 C243.97,637.87 244.63,637.97 245.29,638.08 C245.95,638.18 246.61,638.28 247.27,638.38 C247.93,638.48 248.58,638.58 249.24,638.68 C249.90,638.78 250.56,638.88 251.22,638.98 C251.88,639.08 252.54,639.18 253.20,639.28 C253.86,639.38 254.52,639.48 255.18,639.58 C255.83,639.68 256.49,639.78 257.15,639.88 C257.81,639.98 258.47,640.08 259.13,640.18 C259.79,640.28 260.45,640.38 261.11,640.48 C261.77,640.58 262.43,640.68 263.09,640.78 C263.75,640.88 264.40,640.98 265.06,641.07 C265.72,641.17 266.38,641.27 267.04,641.37 C267.70,641.47 268.36,641.56 269.02,641.66 C269.68,641.76 270.34,641.85 271.00,641.95 C271.66,642.04 272.32,642.13 272.98,642.23 C273.64,642.32 274.30,642.41 274.96,642.51 C275.62,642.60 276.28,642.69 276.94,642.78 C277.60,642.88 278.26,642.97 278.92,643.06 C279.58,643.15 280.24,643.24 280.90,643.34 C281.56,643.43 282.22,643.52 282.88,643.61 C283.54,643.71 284.20,643.80 284.86,643.89 C285.52,643.98 286.18,644.07 286.85,644.16 C287.51,644.25 288.17,644.34 288.83,644.43 C289.49,644.52 290.15,644.61 290.81,644.70 C291.47,644.78 292.13,644.87 292.79,644.96 C293.45,645.04 294.11,645.13 294.78,645.22 C295.44,645.30 296.10,645.39 296.76,645.48 C297.42,645.56 298.08,645.65 298.74,645.73 C299.40,645.82 300.06,645.91 300.73,645.99 C301.39,646.08 302.05,646.16 302.71,646.25 C303.37,646.34 304.03,646.43 304.69,646.52 C305.35,646.61 306.01,646.71 306.67,646.80 C307.33,646.90 307.99,647.01 308.64,647.11 C309.30,647.22 309.96,647.33 310.62,647.44 C311.27,647.56 311.93,647.68 312.59,647.79 C313.24,647.91 313.90,648.03 314.55,648.15 C315.21,648.27 315.87,648.39 316.52,648.51 C317.18,648.63 317.83,648.75 318.49,648.87 C319.14,648.99 319.80,649.11 320.46,649.22 C321.11,649.34 321.77,649.46 322.42,649.58 C323.08,649.70 323.74,649.82 324.39,649.93 C325.05,650.05 325.71,650.16 326.36,650.27 C327.02,650.38 327.68,650.49 328.34,650.59 C329.00,650.70 329.65,650.80 330.31,650.90 C330.97,651.00 331.63,651.10 332.29,651.20 C332.95,651.30 333.61,651.40 334.27,651.50 C334.93,651.60 335.59,651.70 336.25,651.79 C336.91,651.89 337.57,651.99 338.22,652.09 C338.88,652.19 339.54,652.29 340.20,652.38 C340.86,652.48 341.52,652.58 342.18,652.68 C342.84,652.78 343.50,652.88 344.16,652.98 C344.82,653.08 345.48,653.18 346.14,653.28 C346.79,653.38 347.45,653.48 348.11,653.58 C348.77,653.69 349.43,653.79 350.09,653.89 C350.75,653.99 351.41,654.09 352.07,654.20 C352.72,654.30 353.38,654.40 354.04,654.50 C354.70,654.60 355.36,654.71 356.02,654.81 C356.68,654.91 357.34,655.01 357.99,655.11 C358.65,655.22 359.31,655.32 359.97,655.42 C360.63,655.52 361.29,655.62 361.95,655.73 C362.61,655.83 363.27,655.93 363.92,656.03 C364.58,656.13 365.24,656.23 365.90,656.33 C366.56,656.43 367.22,656.53 367.88,656.63 C368.54,656.73 369.20,656.83 369.86,656.93 C370.52,657.03 371.18,657.13 371.83,657.23 C372.49,657.32 373.15,657.42 373.81,657.52 C374.47,657.62 375.13,657.72 375.79,657.82 C376.45,657.92 377.11,658.02 377.77,658.12 C378.43,658.21 379.09,658.31 379.75,658.41 C380.40,658.51 381.06,658.61 381.72,658.71 C382.38,658.82 383.04,658.92 383.70,659.02 C384.36,659.13 385.01,659.24 385.67,659.35 C386.33,659.46 386.99,659.57 387.64,659.68 C388.30,659.80 388.96,659.92 389.61,660.03 C390.27,660.15 390.93,660.27 391.58,660.39 C392.24,660.50 392.89,660.62 393.55,660.74 C394.21,660.86 394.86,660.98 395.52,661.09 C396.17,661.21 396.83,661.33 397.49,661.45 C398.14,661.57 398.80,661.68 399.46,661.80 C400.11,661.92 400.77,662.04 401.42,662.15 C402.08,662.27 402.74,662.38 403.39,662.49 C404.05,662.61 404.71,662.72 405.37,662.82 C406.02,662.93 406.68,663.04 407.34,663.14 C408.00,663.24 408.66,663.34 409.32,663.44 C409.98,663.55 410.64,663.64 411.30,663.74 C411.95,663.84 412.61,663.94 413.27,664.04 C413.93,664.14 414.59,664.24 415.25,664.34 C415.91,664.44 416.57,664.54 417.23,664.63 C417.89,664.73 418.55,664.83 419.21,664.93 C419.87,665.03 420.53,665.13 421.18,665.23 C421.84,665.33 422.50,665.43 423.16,665.53 C423.82,665.63 424.48,665.73 425.14,665.84 C425.80,665.94 426.45,666.05 427.11,666.15 C427.77,666.26 428.43,666.37 429.09,666.47 C429.75,666.58 430.40,666.69 431.06,666.79 C431.72,666.90 432.38,667.01 433.03,667.12 C433.69,667.23 434.35,667.33 435.01,667.44 C435.67,667.55 436.32,667.66 436.98,667.77 C437.64,667.87 438.30,667.98 438.96,668.09 C439.61,668.20 440.27,668.31 440.93,668.41 C441.59,668.52 442.25,668.63 442.90,668.73 C443.56,668.84 444.22,668.94 444.88,669.05 C445.54,669.15 446.20,669.26 446.85,669.36 C447.51,669.47 448.17,669.57 448.83,669.67 C449.49,669.77 450.15,669.88 450.81,669.98 C451.46,670.08 452.12,670.18 452.78,670.28 C453.44,670.39 454.10,670.49 454.76,670.59 C455.42,670.69 456.08,670.80 456.73,670.90 C457.39,671.00 458.05,671.10 458.71,671.20 C459.37,671.31 460.03,671.41 460.69,671.51 C461.35,671.61 462.01,671.72 462.66,671.82 C463.32,671.92 463.98,672.02 464.64,672.12 C465.30,672.22 465.96,672.32 466.62,672.42 C467.28,672.52 467.94,672.62 468.60,672.72 C469.25,672.82 469.91,672.91 470.57,673.01 C471.23,673.10 471.89,673.20 472.55,673.29 C473.21,673.38 473.87,673.48 474.54,673.57 C475.20,673.66 475.86,673.75 476.52,673.84 C477.18,673.94 477.84,674.03 478.50,674.12 C479.16,674.21 479.82,674.30 480.48,674.40 C481.14,674.49 481.80,674.58 482.46,674.67 C483.12,674.76 483.78,674.85 484.44,674.95 C485.10,675.04 485.76,675.13 486.42,675.22 C487.08,675.31 487.74,675.40 488.40,675.50 C489.06,675.59 489.72,675.68 490.38,675.77 C491.04,675.86 491.70,675.96 492.35,676.05 C493.00,676.14 493.65,676.23 494.27,676.31 C494.89,676.40 495.50,676.48 496.05,676.56 C496.61,676.64 497.27,676.73 497.59,676.77 C497.90,676.82 497.86,676.81 497.92,676.82" stroke="#c00c0c" stroke-width="2.20"/>
</g>
<text x="238.7" y="549.60" font-family="&quot;Liberation Sans&quot;, Arial, sans-serif" font-weight="bold" font-size="20" textLength="240.9" lengthAdjust="spacingAndGlyphs">r(0.00 nm, 0.00 nm) = 0.50</text>
<line x1="67.30" y1="719.40" x2="67.30" y2="724.6" stroke="#4a4a4a" stroke-width="1.30"/>
<text x="68.60" y="743.9" text-anchor="middle" font-family="&quot;Liberation Sans&quot;, Arial, sans-serif" font-size="19.6" stroke="#000" stroke-width="0.35">0</text>
<line x1="152.90" y1="719.40" x2="152.90" y2="724.6" stroke="#4a4a4a" stroke-width="1.30"/>
<text x="155.70" y="743.9" text-anchor="middle" font-family="&quot;Liberation Sans&quot;, Arial, sans-serif" font-size="19.6" stroke="#000" stroke-width="0.35">20</text>
<line x1="239.60" y1="719.40" x2="239.60" y2="724.6" stroke="#4a4a4a" stroke-width="1.30"/>
<text x="241.80" y="743.9" text-anchor="middle" font-family="&quot;Liberation Sans&quot;, Arial, sans-serif" font-size="19.6" stroke="#000" stroke-width="0.35">40</text>
<line x1="325.80" y1="719.40" x2="325.80" y2="724.6" stroke="#4a4a4a" stroke-width="1.30"/>
<text x="328.50" y="743.9" text-anchor="middle" font-family="&quot;Liberation Sans&quot;, Arial, sans-serif" font-size="19.6" stroke="#000" stroke-width="0.35">60</text>
<line x1="412.30" y1="719.40" x2="412.30" y2="724.6" stroke="#4a4a4a" stroke-width="1.30"/>
<text x="415.00" y="743.9" text-anchor="middle" font-family="&quot;Liberation Sans&quot;, Arial, sans-serif" font-size="19.6" stroke="#000" stroke-width="0.35">80</text>
<line x1="498.50" y1="719.40" x2="498.50" y2="724.6" stroke="#4a4a4a" stroke-width="1.30"/>
<text x="502.30" y="743.9" text-anchor="middle" font-family="&quot;Liberation Sans&quot;, Arial, sans-serif" font-size="19.6" stroke="#000" stroke-width="0.35">100</text>
<text x="235.3" y="775.0" font-family="&quot;Liberation Sans&quot;, Arial, sans-serif" font-size="23.0" textLength="94.2" lengthAdjust="spacingAndGlyphs" stroke="#000" stroke-width="0.4">time (ps)</text>
<text transform="translate(25.30,588.2) rotate(-90)" font-family="&quot;Liberation Sans&quot;, Arial, sans-serif" font-size="24.7" textLength="292.0" lengthAdjust="spacingAndGlyphs" stroke="#000" stroke-width="0.4">Autocorrelation Function C</text>
<text transform="translate(30.30,295.6) rotate(-90)" font-family="&quot;Liberation Sans&quot;, Arial, sans-serif" font-size="18" stroke="#000" stroke-width="0.4">r</text>
<text transform="translate(25.30,288.8) rotate(-90)" font-family="&quot;Liberation Sans&quot;, Arial, sans-serif" font-size="24.7" textLength="64.6" lengthAdjust="spacingAndGlyphs" stroke="#000" stroke-width="0.4">(t) nm</text>
<text transform="translate(15.30,223.8) rotate(-90)" font-family="&quot;Liberation Sans&quot;, Arial, sans-serif" font-size="18.5" stroke="#000" stroke-width="0.4">2</text>
<text transform="translate(25.30,213.3) rotate(-90)" font-family="&quot;Liberation Sans&quot;, Arial, sans-serif" font-size="24.7" stroke="#000" stroke-width="0.4">10</text>
<text transform="translate(15.30,185.2) rotate(-90)" font-family="&quot;Liberation Sans&quot;, Arial, sans-serif" font-size="18.5" stroke="#000" stroke-width="0.4">-3</text>
</svg>
</body></html>
